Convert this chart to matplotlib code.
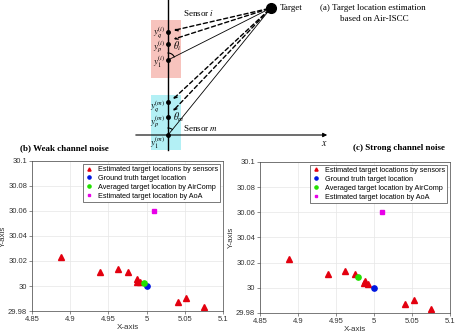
import matplotlib.pyplot as plt
import matplotlib.patches as mpatches
import numpy as np

# Estimated target locations reported by the individual sensors
sensor_x = [4.888, 4.939, 4.962, 4.975, 4.988, 4.987, 4.992, 5.041, 5.052, 5.075]
sensor_y = [30.023, 30.011, 30.0135, 30.011, 30.0058, 30.0035, 30.0028, 29.9875, 29.9903, 29.9832]

# Ground truth and estimates
truth = (5.0, 30.0)
aoa = (5.01, 30.06)
aircomp_weak = (4.997, 30.0022)
aircomp_strong = (4.9795, 30.0083)

x_ticks = [4.85, 4.9, 4.95, 5.0, 5.05, 5.1]
x_tick_labels = ['4.85', '4.9', '4.95', '5', '5.05', '5.1']
y_ticks = [29.98, 30.0, 30.02, 30.04, 30.06, 30.08, 30.1]
y_tick_labels = ['29.98', '30', '30.02', '30.04', '30.06', '30.08', '30.1']

legend_labels = ['Estimated target locations by sensors',
                 'Ground truth target location',
                 'Averaged target location by AirComp',
                 'Estimated target location by AoA']

SERIF = 'Liberation Serif'
SANS = 'Liberation Sans'
plt.rcParams['mathtext.fontset'] = 'stix'

fig = plt.figure(figsize=(4.74, 3.35), dpi=100)

# ---------- schematic (pixel coordinates) ----------
dg = fig.add_axes([0, 0, 1, 1], zorder=0)
dg.set_xlim(0, 474)
dg.set_ylim(335, 0)
dg.axis('off')

axis_x, origin_y = 168, 135
target = (271, 8)
# element positions and where their labels sit
pts_i = {'q': (32, 33), 'p': (44, 47), '1': (60, 62)}
pts_m = {'q': (102, 107), 'p': (117, 122), '1': (135, 143)}

dg.add_patch(mpatches.Rectangle((151, 20), 30, 58, color='#f7c3bd', lw=0))
dg.add_patch(mpatches.Rectangle((151, 95), 30, 55, color='#b3f0f5', lw=0))
dg.plot([axis_x, axis_x], [0, 150], color='k', lw=1.0)
dg.annotate('', xy=(330, origin_y), xytext=(133, origin_y),
            arrowprops=dict(arrowstyle='-|>', lw=0.8, color='k', mutation_scale=6))
dg.text(324, 143, '$x$', fontsize=7, ha='center', va='center')

dg.plot(*target, 'o', color='k', ms=7)
dg.text(280, 8, 'Target', fontsize=6.5, family=SERIF, va='center')
dg.text(183, 13, 'Sensor $i$', fontsize=6.5, family=SERIF, va='center')
dg.text(183, 128, 'Sensor $m$', fontsize=6.5, family=SERIF, va='center')

for pts, name in ((pts_i, 'i'), (pts_m, 'm')):
    y_q, y_p, y_1 = pts['q'][0], pts['p'][0], pts['1'][0]
    # dashed echoes arriving near the upper elements
    for y_end in (y_q - 1, y_p - 4):
        dg.annotate('', xy=(axis_x + 3, y_end), xytext=target,
                    arrowprops=dict(arrowstyle='->', lw=1.0, ls=(0, (3, 2)),
                                    color='k', mutation_scale=5))
    # direct line to the reference element
    dg.plot([target[0], axis_x], [target[1], y_1], color='k', lw=0.6)
    for key, (yy, ylab) in pts.items():
        dg.plot(axis_x, yy, 'o', color='k', ms=2.5)
        dg.text(165, ylab, '$y_{%s}^{(%s)}$' % (key, name), fontsize=6.5,
                ha='right', va='center')
    # angle arc between the axis and the direct path
    ang = np.arctan2(y_1 - target[1], target[0] - axis_x)
    t = np.linspace(np.pi / 2, ang, 20)
    r = 7
    dg.plot(axis_x + r * np.cos(t), y_1 - r * np.sin(t), color='k', lw=0.8)
    dg.text(axis_x + 5, y_1 - 14 if name == 'i' else y_1 - 18,
            r'$\theta_{%s}$' % name, fontsize=7, va='center')

dg.text(320, 8, '(a) Target location estimation', fontsize=6.5, family=SERIF, va='center')
dg.text(340, 19, 'based on Air-ISCC', fontsize=6.5, family=SERIF, va='center')
dg.text(20, 148, '(b) Weak channel noise', fontsize=6.5, family=SERIF,
        fontweight='bold', va='center')
dg.text(353, 148, '(c) Strong channel noise', fontsize=6.5, family=SERIF,
        fontweight='bold', va='center')


# ---------- scatter panels ----------
def panel(rect, aircomp):
    ax = fig.add_axes(rect, zorder=1)
    ax.plot(sensor_x, sensor_y, '^', color='#e3000f', ms=3.8, ls='none',
            label=legend_labels[0])
    ax.plot(*truth, 'o', color='#0016e0', ms=3.8, label=legend_labels[1])
    ax.plot(*aircomp, 'o', color='#22e000', ms=3.8, label=legend_labels[2])
    ax.plot(*aoa, 's', color='#e800e8', ms=3.2, label=legend_labels[3])
    ax.set_xlim(4.85, 5.1)
    ax.set_ylim(29.98, 30.1)
    ax.set_xticks(x_ticks)
    ax.set_xticklabels(x_tick_labels)
    ax.set_yticks(y_ticks)
    ax.set_yticklabels(y_tick_labels)
    ax.grid(True, color='#e6e6e6', lw=0.5)
    ax.set_axisbelow(True)
    ax.tick_params(labelsize=5.5, length=2, width=0.4, pad=1.5, colors='#333333')
    for lbl in ax.get_xticklabels() + ax.get_yticklabels():
        lbl.set_family(SANS)
    for s in ax.spines.values():
        s.set_linewidth(0.5)
        s.set_color('#444444')
    ax.set_xlabel('X-axis', fontsize=5.8, family=SANS, labelpad=1, color='#333333')
    ax.set_ylabel('Y-axis', fontsize=5.8, family=SANS, labelpad=1, color='#333333')
    leg = ax.legend(loc='upper right', prop={'family': SANS, 'size': 5.2},
                    markerscale=0.6, handlelength=1.2, handletextpad=0.6,
                    borderpad=0.3, labelspacing=0.25, fancybox=False,
                    framealpha=1, edgecolor='#444444', borderaxespad=0.4)
    leg.get_frame().set_linewidth(0.5)
    return ax


panel([0.0675, 0.0716, 0.403, 0.448], aircomp_weak)
panel([0.5485, 0.0657, 0.401, 0.451], aircomp_strong)

fig.savefig('out.png', dpi=100)
